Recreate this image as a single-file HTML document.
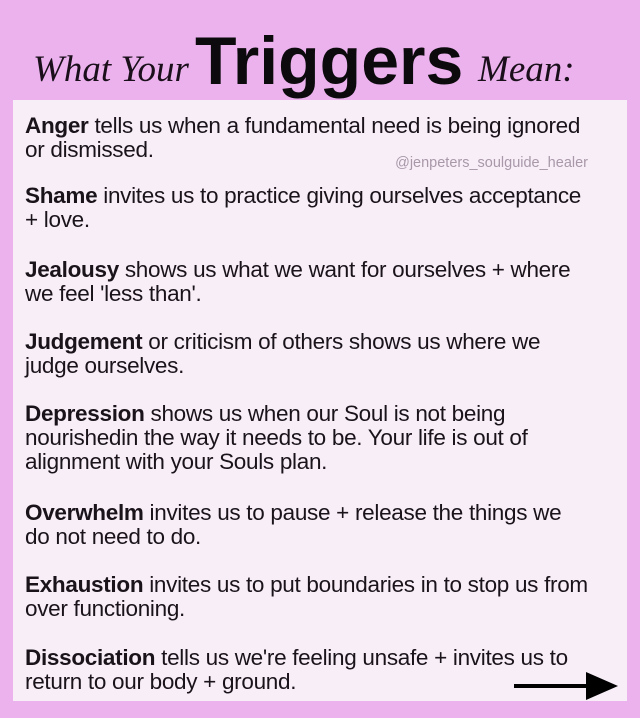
<!DOCTYPE html>
<html><head><meta charset="utf-8"><style>
body{margin:0;width:640px;height:718px;background:#ebb2ee;position:relative;overflow:hidden;font-family:"Liberation Sans",sans-serif;}
.it{font-family:"Liberation Serif",serif;font-style:italic;font-size:37px;color:#1a0f1a;position:absolute;top:48px;}
.big{position:absolute;left:195px;top:22px;font-family:"Liberation Sans",sans-serif;font-weight:bold;font-size:68px;letter-spacing:0px;color:#0d0a0d;}
.panel{position:absolute;left:13px;top:100px;width:614px;height:601px;background:#f8eef8;}
.p{position:absolute;left:25px;font-size:22.5px;line-height:24px;color:#1a141a;white-space:nowrap;letter-spacing:-0.3px;}
b{font-weight:bold;}
.wm{position:absolute;right:52px;top:155px;font-size:14.5px;color:#a898a8;}
</style></head><body>
<div class="it" style="left:33px;">What Your</div>
<div class="big">Triggers</div>
<div class="it" style="left:478px;">Mean:</div>
<div class="panel"></div>
<div class="p" style="top:114px"><b>Anger</b> tells us when a fundamental need is being ignored<br>or dismissed.</div>
<div class="wm">@jenpeters_soulguide_healer</div>
<div class="p" style="top:184px"><b>Shame</b> invites us to practice giving ourselves acceptance<br>+ love.</div>
<div class="p" style="top:258px"><b>Jealousy</b> shows us what we want for ourselves + where<br>we feel 'less than'.</div>
<div class="p" style="top:330px"><b>Judgement</b> or criticism of others shows us where we<br>judge ourselves.</div>
<div class="p" style="top:402px"><b>Depression</b> shows us when our Soul is not being<br>nourishedin the way it needs to be. Your life is out of<br>alignment with your Souls plan.</div>
<div class="p" style="top:501px"><b>Overwhelm</b> invites us to pause + release the things we<br>do not need to do.</div>
<div class="p" style="top:573px"><b>Exhaustion</b> invites us to put boundaries in to stop us from<br>over functioning.</div>
<div class="p" style="top:646px"><b>Dissociation</b> tells us we're feeling unsafe + invites us to<br>return to our body + ground.</div>
<svg style="position:absolute;left:0;top:0" width="640" height="718"><line x1="514" y1="686" x2="590" y2="686" stroke="#000" stroke-width="4"/><polygon points="586,672 618,686 586,700" fill="#000"/></svg>
</body></html>
